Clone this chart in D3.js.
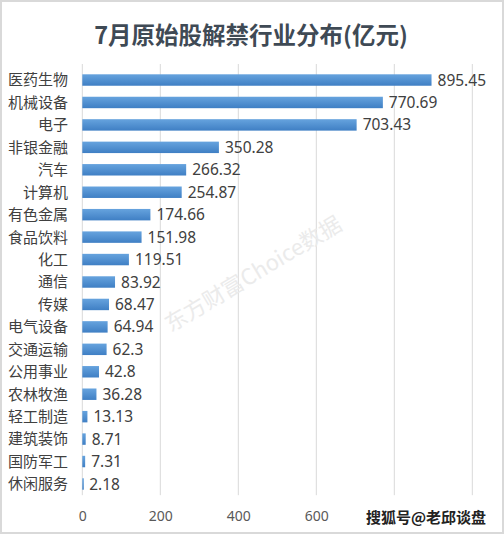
<!DOCTYPE html>
<html><head><meta charset="utf-8">
<script src="https://cdn.jsdelivr.net/npm/d3@7"></script>
<style>
body{margin:0;background:#fff;}
svg{display:block;font-family:"Noto Sans CJK SC","Microsoft YaHei",sans-serif;}
</style></head>
<body><svg id="c" width="504" height="534"></svg>
<script>
const title = "7月原始股解禁行业分布(亿元)";
const categories = ["医药生物","机械设备","电子","非银金融","汽车","计算机","有色金属","食品饮料","化工","通信","传媒","电气设备","交通运输","公用事业","农林牧渔","轻工制造","建筑装饰","国防军工","休闲服务"];
const values = [895.45,770.69,703.43,350.28,266.32,254.87,174.66,151.98,119.51,83.92,68.47,64.94,62.3,42.8,36.28,13.13,8.71,7.31,2.18];
const valueLabels = ["895.45","770.69","703.43","350.28","266.32","254.87","174.66","151.98","119.51","83.92","68.47","64.94","62.3","42.8","36.28","13.13","8.71","7.31","2.18"];
const gridTicks = [0,200,400,600,800,1000];
const xTickLabels = [0,200,400,600];
const watermark = "东方财富Choice数据";
const credit = "搜狐号@老邱谈盘";

const svg = d3.select("#c");
const W = 504, H = 534;
svg.append("rect").attr("x",1).attr("y",1).attr("width",W-2).attr("height",H-2)
  .attr("fill","#fff").attr("stroke","#d9d9d9").attr("stroke-width",2);

const defs = svg.append("defs");
const g = defs.append("linearGradient").attr("id","bg").attr("x1",0).attr("x2",0).attr("y1",0).attr("y2",1);
g.append("stop").attr("offset","0%").attr("stop-color","#66a3de");
g.append("stop").attr("offset","100%").attr("stop-color","#3f7fc4");

const x = d3.scaleLinear().domain([0,1000]).range([82.3,472.3]);
const y = d3.scaleBand().domain(categories).range([68.8,495.2]).paddingInner(0.49).paddingOuter(0.245);

svg.append("text").attr("x",251).attr("y",44).attr("text-anchor","middle")
  .attr("font-size",23.5).attr("font-weight","bold").attr("fill","#3f4a55").text(title);

// grid
svg.append("g").selectAll("line").data(gridTicks).join("line")
  .attr("x1",d=>x(d)).attr("x2",d=>x(d)).attr("y1",64).attr("y2",495.2)
  .attr("stroke","#d9d9d9").attr("stroke-width",1);

// watermark diagonal
svg.append("text").attr("transform","translate(252,272) rotate(-31)")
  .attr("text-anchor","middle").attr("dominant-baseline","central")
  .attr("font-size",22).attr("fill","#ebebeb").text(watermark);

// bars
svg.append("g").selectAll("rect").data(values).join("rect")
  .attr("x",x(0)).attr("y",(d,i)=>y(categories[i]))
  .attr("width",d=>Math.max(1.5,x(d)-x(0))).attr("height",y.bandwidth())
  .attr("fill","url(#bg)");

// category labels
svg.append("g").selectAll("text").data(categories).join("text")
  .attr("x",68).attr("y",d=>y(d)+y.bandwidth()/2).attr("dy","0.36em")
  .attr("text-anchor","end").attr("font-size",15).attr("fill","#404040").text(d=>d);

// value labels
svg.append("g").selectAll("text").data(values).join("text")
  .attr("x",d=>x(d)+6).attr("y",(d,i)=>y(categories[i])+y.bandwidth()/2).attr("dy","0.36em")
  .attr("font-size",15.5).attr("fill","#404040").attr("font-family","'Noto Sans','Open Sans',sans-serif")
  .text((d,i)=>valueLabels[i]);

// x axis
const ax = svg.append("g").attr("transform","translate(0,495)")
  .call(d3.axisBottom(x).tickValues(xTickLabels).tickSize(0).tickPadding(16).tickFormat(d3.format("d")));
ax.select(".domain").remove();
ax.selectAll("text").attr("font-size",14).attr("fill","#595959").attr("font-family","'Noto Sans','Open Sans',sans-serif");

// credit
svg.append("text").attr("x",426).attr("y",518).attr("dy","0.36em").attr("text-anchor","middle")
  .attr("font-size",15).attr("font-weight","bold").attr("fill","#222").text(credit);
</script></body></html>
